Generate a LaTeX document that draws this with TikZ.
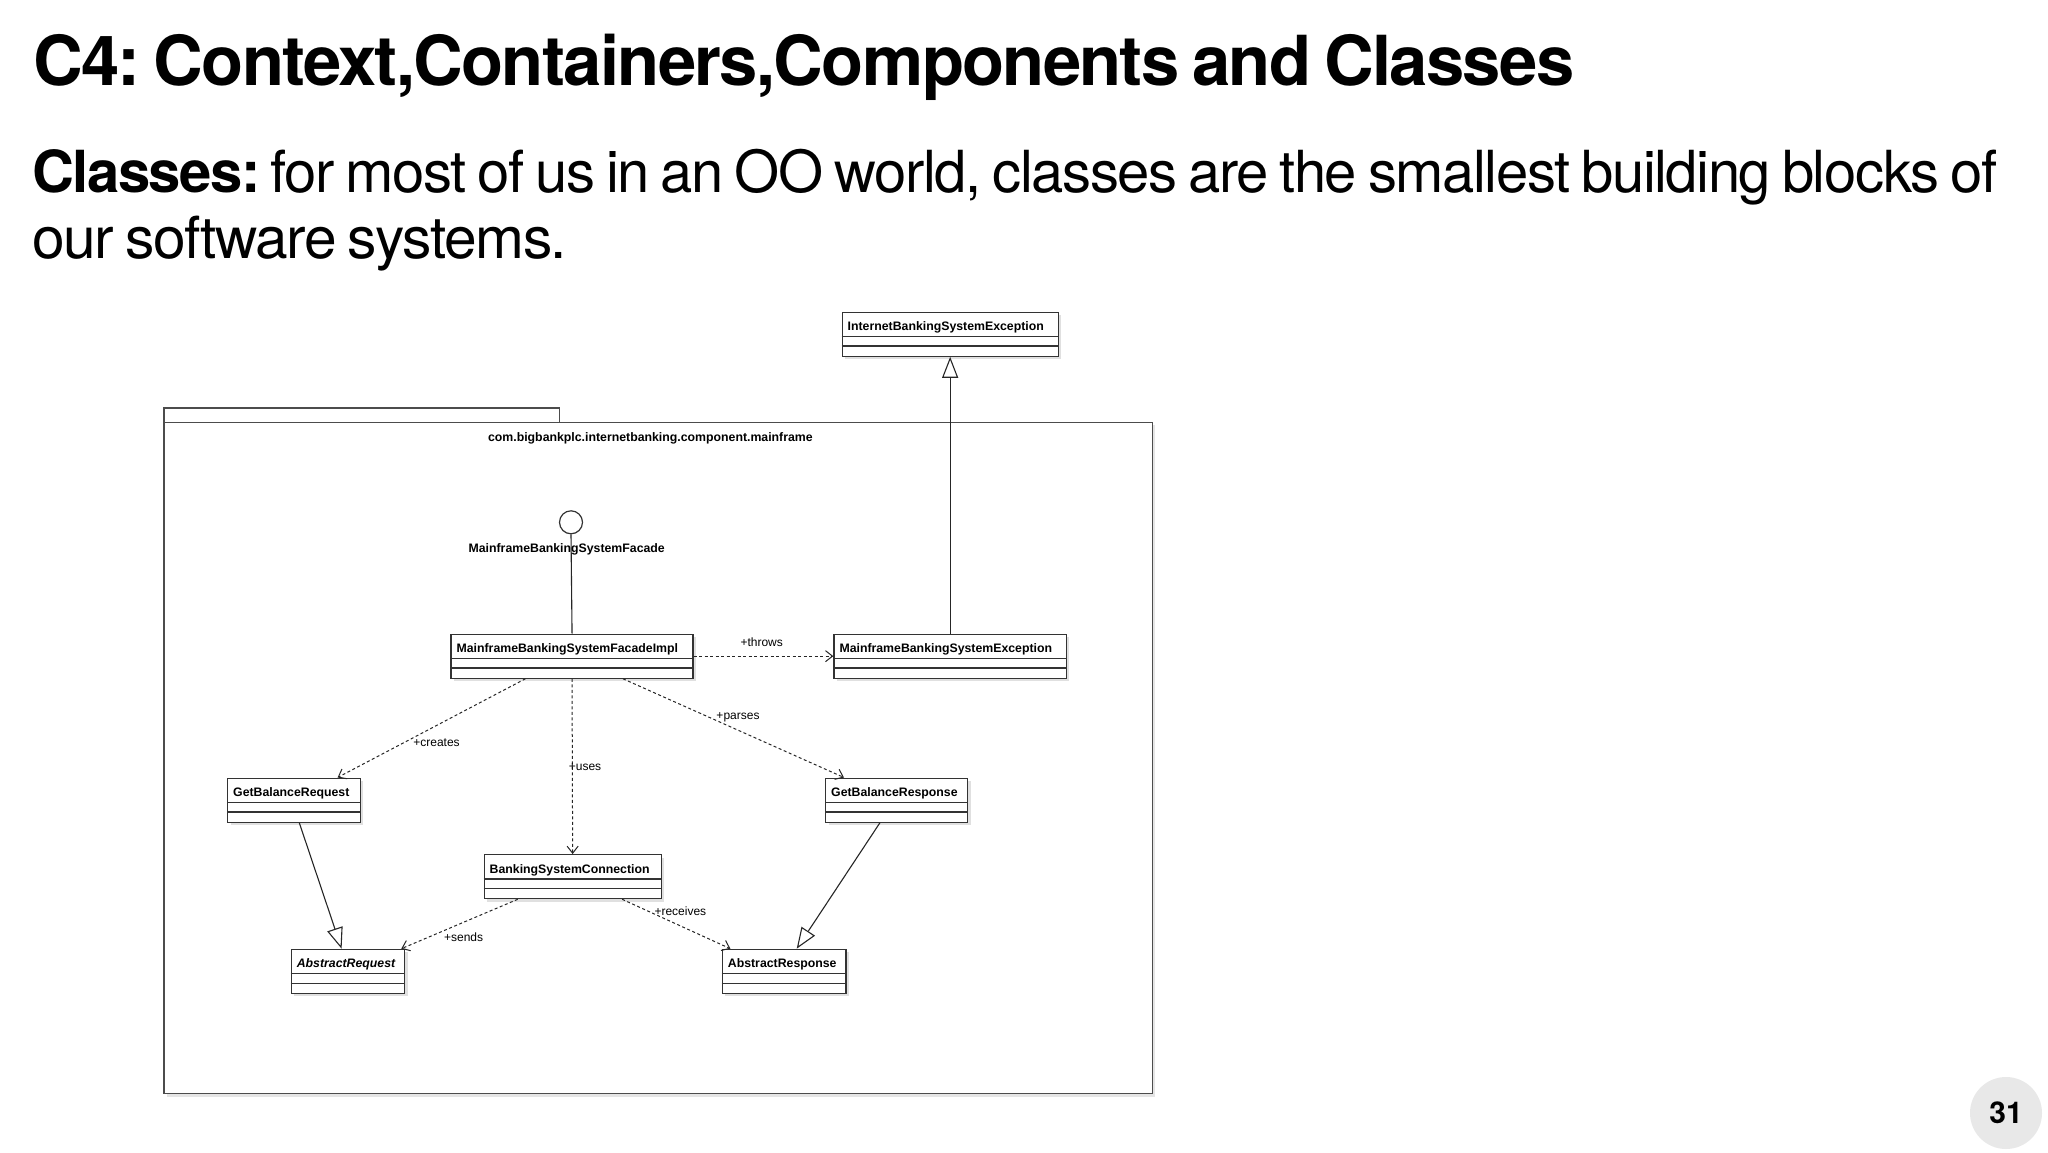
\documentclass[tikz,border=0pt]{standalone}
\usepackage{fontspec}
\usepackage{graphicx}
\setmainfont{Liberation Sans}
\newfontfamily\headfont[LetterSpace=-2.5, WordSpace=0.75]{TeX Gyre Heros}
\newfontfamily\numfont{TeX Gyre Heros}
\frenchspacing
\usetikzlibrary{arrows.meta,shadows,calc}
\tikzset{
  cls/.style={draw=black!80, line width=1.3pt, fill=white, anchor=north west,
    minimum height=44pt, inner sep=0pt,
    drop shadow={shadow xshift=3pt, shadow yshift=-3pt, fill=black, opacity=0.12}},
  clsname/.style={font=\fontsize{12.3}{14}\selectfont\bfseries, anchor=base west, inner sep=0pt},
  lbl/.style={font=\fontsize{12}{14}\selectfont, anchor=base, inner sep=0pt},
  dep/.style={draw=black!85, line width=1pt, dash pattern=on 3pt off 2.5pt,
    -{Straight Barb[length=7pt,width=11pt,line width=1pt]}},
  gen/.style={draw=black!85, line width=1.1pt,
    -{Triangle[open,length=21pt,width=16pt,fill=white,line width=1.1pt]}},
  conn/.style={draw=black!85, line width=1.1pt},
  pkgbox/.style={draw=black!70, line width=1.4pt, fill=white, anchor=north west, inner sep=0pt,
    drop shadow={shadow xshift=3pt, shadow yshift=-3pt, fill=black, opacity=0.10}},
  pkgtabbox/.style={draw=black!70, line width=1.4pt, fill=white, anchor=north west, inner sep=0pt},
}
\newcommand\umlclass[5]{%
  \node[cls, minimum width=#4pt] (#1) at (#2,#3) {};
  \node[clsname] (#1-t) at ([xshift=6pt,yshift=-19pt]#1.north west) {#5};
  \draw[draw=black!80, line width=1.2pt] ([yshift=-25pt]#1.north west) -- ([yshift=-25pt]#1.north east);
  \draw[draw=black!80, line width=1.2pt] ([yshift=-34.5pt]#1.north west) -- ([yshift=-34.5pt]#1.north east);
}
\begin{document}
\begin{tikzpicture}[x=1pt,y=-1pt]
\fill[white] (0,0) rectangle (2048,1152);
\useasboundingbox (0,0) rectangle (2048,1152);

% headings
\node[anchor=base west, inner sep=0pt] (title) at (33,85)
  {\resizebox{1541pt}{\height}{\frenchspacing\headfont\bfseries\fontsize{69}{80}\selectfont C4: Context,Containers,Components and Classes}};
\node[anchor=base west, inner sep=0pt] (sub1) at (32,192.5)
  {\resizebox{1965pt}{\height}{\frenchspacing\headfont\fontsize{58}{66}\selectfont\textbf{Classes:} for most of us in an OO world, classes are the smallest building blocks of}};
\node[anchor=base west, inner sep=0pt] (sub2) at (32,258.3)
  {\resizebox{535pt}{\height}{\frenchspacing\headfont\fontsize{58}{66}\selectfont our software systems.}};

% package
\node[pkgbox, minimum width=988.3pt, minimum height=671.3pt] (pkg) at (163.4,421.7) {};
\node[pkgtabbox, minimum width=395.1pt, minimum height=14.4pt] (tab) at (163.4,407.3) {};
\node[clsname, anchor=base] (pkgname) at (650.4,441)
  {com.bigbankplc.internetbanking.component.mainframe};

% classes
\umlclass{ibse}{841.5}{311.5}{216}{InternetBankingSystemException}
\umlclass{impl}{450.4}{633.5}{242}{MainframeBankingSystemFacadeImpl}
\umlclass{mbse}{833.3}{633.5}{232.4}{MainframeBankingSystemException}
\umlclass{gbreq}{227}{777.5}{132.5}{GetBalanceRequest}
\umlclass{gbresp}{825}{777.5}{142}{GetBalanceResponse}
\umlclass{bsc}{483.5}{854}{177}{BankingSystemConnection}
\umlclass{areq}{290.6}{948.7}{113.4}{\itshape AbstractRequest}
\umlclass{aresp}{721.7}{948.7}{123.5}{AbstractResponse}

% interface lollipop
\node[circle, draw=black!80, line width=1.2pt, fill=white, minimum size=23pt, inner sep=0pt] (iface) at (571,522.3) {};
\draw[conn] (impl.north) -- (iface.south);
\node[clsname, anchor=base] (ifacename) at (566.7,552) {MainframeBankingSystemFacade};

% connectors
\draw[gen] (mbse.north) -- (ibse.south);
\draw[dep] (impl.east) -- (mbse.west);
\draw[dep] ([xshift=75pt]impl.south west) -- ([xshift=110.6pt]gbreq.north west);
\draw[dep] (impl.south) -- (bsc.north);
\draw[dep] ([xshift=172.6pt]impl.south west) -- ([xshift=19pt]gbresp.north west);
\draw[dep] ([xshift=34.2pt]bsc.south west) -- ([xshift=110.7pt]areq.north west);
\draw[dep] ([xshift=138.7pt]bsc.south west) -- ([xshift=8.7pt]aresp.north west);
\draw[gen] ([xshift=72.3pt]gbreq.south west) -- ([xshift=51pt]areq.north west);
\draw[gen] ([xshift=54.9pt]gbresp.south west) -- ([xshift=75pt]aresp.north west);

% connector labels
\node[lbl] (lthrows) at (761.7,646.5) {+throws};
\node[lbl] (lcreates) at (436.5,746.5) {+creates};
\node[lbl] (luses) at (585,770) {+uses};
\node[lbl] (lparses) at (738,719.5) {+parses};
\node[lbl] (lsends) at (463.6,941.8) {+sends};
\node[lbl] (lreceives) at (680.4,915) {+receives};

% page number
\node[circle, fill=black!9, minimum size=72pt, inner sep=0pt,
  font=\numfont\bfseries\fontsize{30}{32}\selectfont] (pg) at (2006,1113) {31};
\end{tikzpicture}
\end{document}
